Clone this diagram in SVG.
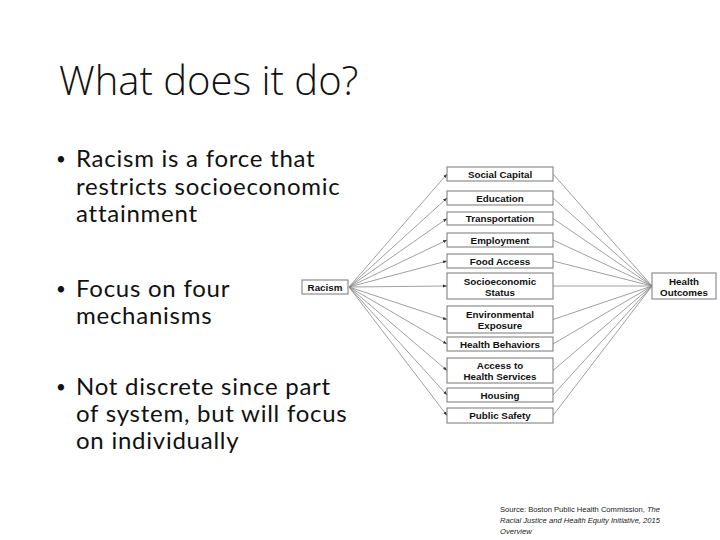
<svg xmlns="http://www.w3.org/2000/svg" width="720" height="540" viewBox="0 0 720 540">
<defs>
<marker id="ah" markerWidth="4" markerHeight="4" refX="4" refY="2" orient="auto" markerUnits="userSpaceOnUse">
<path d="M0,0.5 L4,2 L0,3.5 Z" fill="#333"/>
</marker>
<style>
.title{font-family:"Open Sans","Liberation Sans",sans-serif;font-weight:300;font-size:40px;fill:#111}
.bul{font-family:Lato,"Open Sans",sans-serif;font-size:24px;letter-spacing:0.75px;fill:#111}
.dot{font-size:17px}
.box{fill:#fff;stroke:#777;stroke-width:1}
.lbl{font-family:"Liberation Sans",Arial,sans-serif;font-weight:bold;font-size:9.8px;fill:#111;text-anchor:middle}
.ln{stroke:#888;stroke-width:0.8;fill:none}
.src{font-family:"Liberation Sans",Arial,sans-serif;font-size:7.6px;fill:#222}
</style>
</defs>
<rect width="720" height="540" fill="#fff"/>
<text class="title" x="59" y="95">What does it do?</text>
<g id="bullets">
<text class="bul"><tspan class="dot" x="56" y="165">•</tspan><tspan x="76" y="167">Racism is a force that</tspan><tspan x="76" y="195">restricts socioeconomic</tspan><tspan x="76" y="222">attainment</tspan></text>
<text class="bul"><tspan class="dot" x="56" y="295">•</tspan><tspan x="76" y="297">Focus on four</tspan><tspan x="76" y="324">mechanisms</tspan></text>
<text class="bul"><tspan class="dot" x="56" y="393">•</tspan><tspan x="76" y="395">Not discrete since part</tspan><tspan x="76" y="422">of system, but will focus</tspan><tspan x="76" y="449">on individually</tspan></text>
</g>
<g id="connectors">
<line class="ln" x1="349" y1="287" x2="447" y2="174" marker-end="url(#ah)"/>
<line class="ln" x1="349" y1="287" x2="447" y2="198" marker-end="url(#ah)"/>
<line class="ln" x1="349" y1="287" x2="447" y2="218.5" marker-end="url(#ah)"/>
<line class="ln" x1="349" y1="287" x2="447" y2="240" marker-end="url(#ah)"/>
<line class="ln" x1="349" y1="287" x2="447" y2="261" marker-end="url(#ah)"/>
<line class="ln" x1="349" y1="287" x2="447" y2="286" marker-end="url(#ah)"/>
<line class="ln" x1="349" y1="287" x2="447" y2="319.5" marker-end="url(#ah)"/>
<line class="ln" x1="349" y1="287" x2="447" y2="344" marker-end="url(#ah)"/>
<line class="ln" x1="349" y1="287" x2="447" y2="370.5" marker-end="url(#ah)"/>
<line class="ln" x1="349" y1="287" x2="447" y2="395" marker-end="url(#ah)"/>
<line class="ln" x1="349" y1="287" x2="447" y2="415.5" marker-end="url(#ah)"/>
<line class="ln" x1="553" y1="174" x2="652" y2="286"/>
<line class="ln" x1="553" y1="198" x2="652" y2="286"/>
<line class="ln" x1="553" y1="218.5" x2="652" y2="286"/>
<line class="ln" x1="553" y1="240" x2="652" y2="286"/>
<line class="ln" x1="553" y1="261" x2="652" y2="286"/>
<line class="ln" x1="553" y1="286" x2="652" y2="286"/>
<line class="ln" x1="553" y1="319.5" x2="652" y2="286"/>
<line class="ln" x1="553" y1="344" x2="652" y2="286"/>
<line class="ln" x1="553" y1="370.5" x2="652" y2="286"/>
<line class="ln" x1="553" y1="395" x2="652" y2="286"/>
<line class="ln" x1="553" y1="415.5" x2="652" y2="286"/>
</g>
<g id="racism"><rect class="box" x="302" y="280" width="46" height="14"/><text class="lbl" x="325" y="290.5">Racism</text></g>
<g id="social-capital"><rect class="box" x="447" y="167" width="106" height="14"/><text class="lbl" x="500" y="177.5">Social Capital</text></g>
<g id="education"><rect class="box" x="447" y="191" width="106" height="14"/><text class="lbl" x="500" y="201.5">Education</text></g>
<g id="transportation"><rect class="box" x="447" y="212" width="106" height="13"/><text class="lbl" x="500" y="222">Transportation</text></g>
<g id="employment"><rect class="box" x="447" y="233" width="106" height="14"/><text class="lbl" x="500" y="243.5">Employment</text></g>
<g id="food-access"><rect class="box" x="447" y="254" width="106" height="14"/><text class="lbl" x="500" y="264.5">Food Access</text></g>
<g id="socioeconomic-status"><rect class="box" x="447" y="273" width="106" height="26"/><text class="lbl" x="500" y="284.5">Socioeconomic</text><text class="lbl" x="500" y="295.5">Status</text></g>
<g id="environmental-exposure"><rect class="box" x="447" y="306" width="106" height="27"/><text class="lbl" x="500" y="317.5">Environmental</text><text class="lbl" x="500" y="328.5">Exposure</text></g>
<g id="health-behaviors"><rect class="box" x="447" y="337" width="106" height="14"/><text class="lbl" x="500" y="347.5">Health Behaviors</text></g>
<g id="access-health-services"><rect class="box" x="447" y="358" width="106" height="25"/><text class="lbl" x="500" y="368.5">Access to</text><text class="lbl" x="500" y="379.5">Health Services</text></g>
<g id="housing"><rect class="box" x="447" y="388" width="106" height="14"/><text class="lbl" x="500" y="398.5">Housing</text></g>
<g id="public-safety"><rect class="box" x="447" y="408" width="106" height="15"/><text class="lbl" x="500" y="419">Public Safety</text></g>
<g id="health-outcomes"><rect class="box" x="652" y="273" width="64" height="26"/><text class="lbl" x="684" y="284.5">Health</text><text class="lbl" x="684" y="295.5">Outcomes</text></g>
<g id="source">
<text class="src" x="500" y="512">Source: Boston Public Health Commission, <tspan font-style="italic">The</tspan></text>
<text class="src" x="500" y="523" font-style="italic">Racial Justice and Health Equity Initiative, 2015</text>
<text class="src" x="500" y="534" font-style="italic">Overview</text>
</g>
</svg>
